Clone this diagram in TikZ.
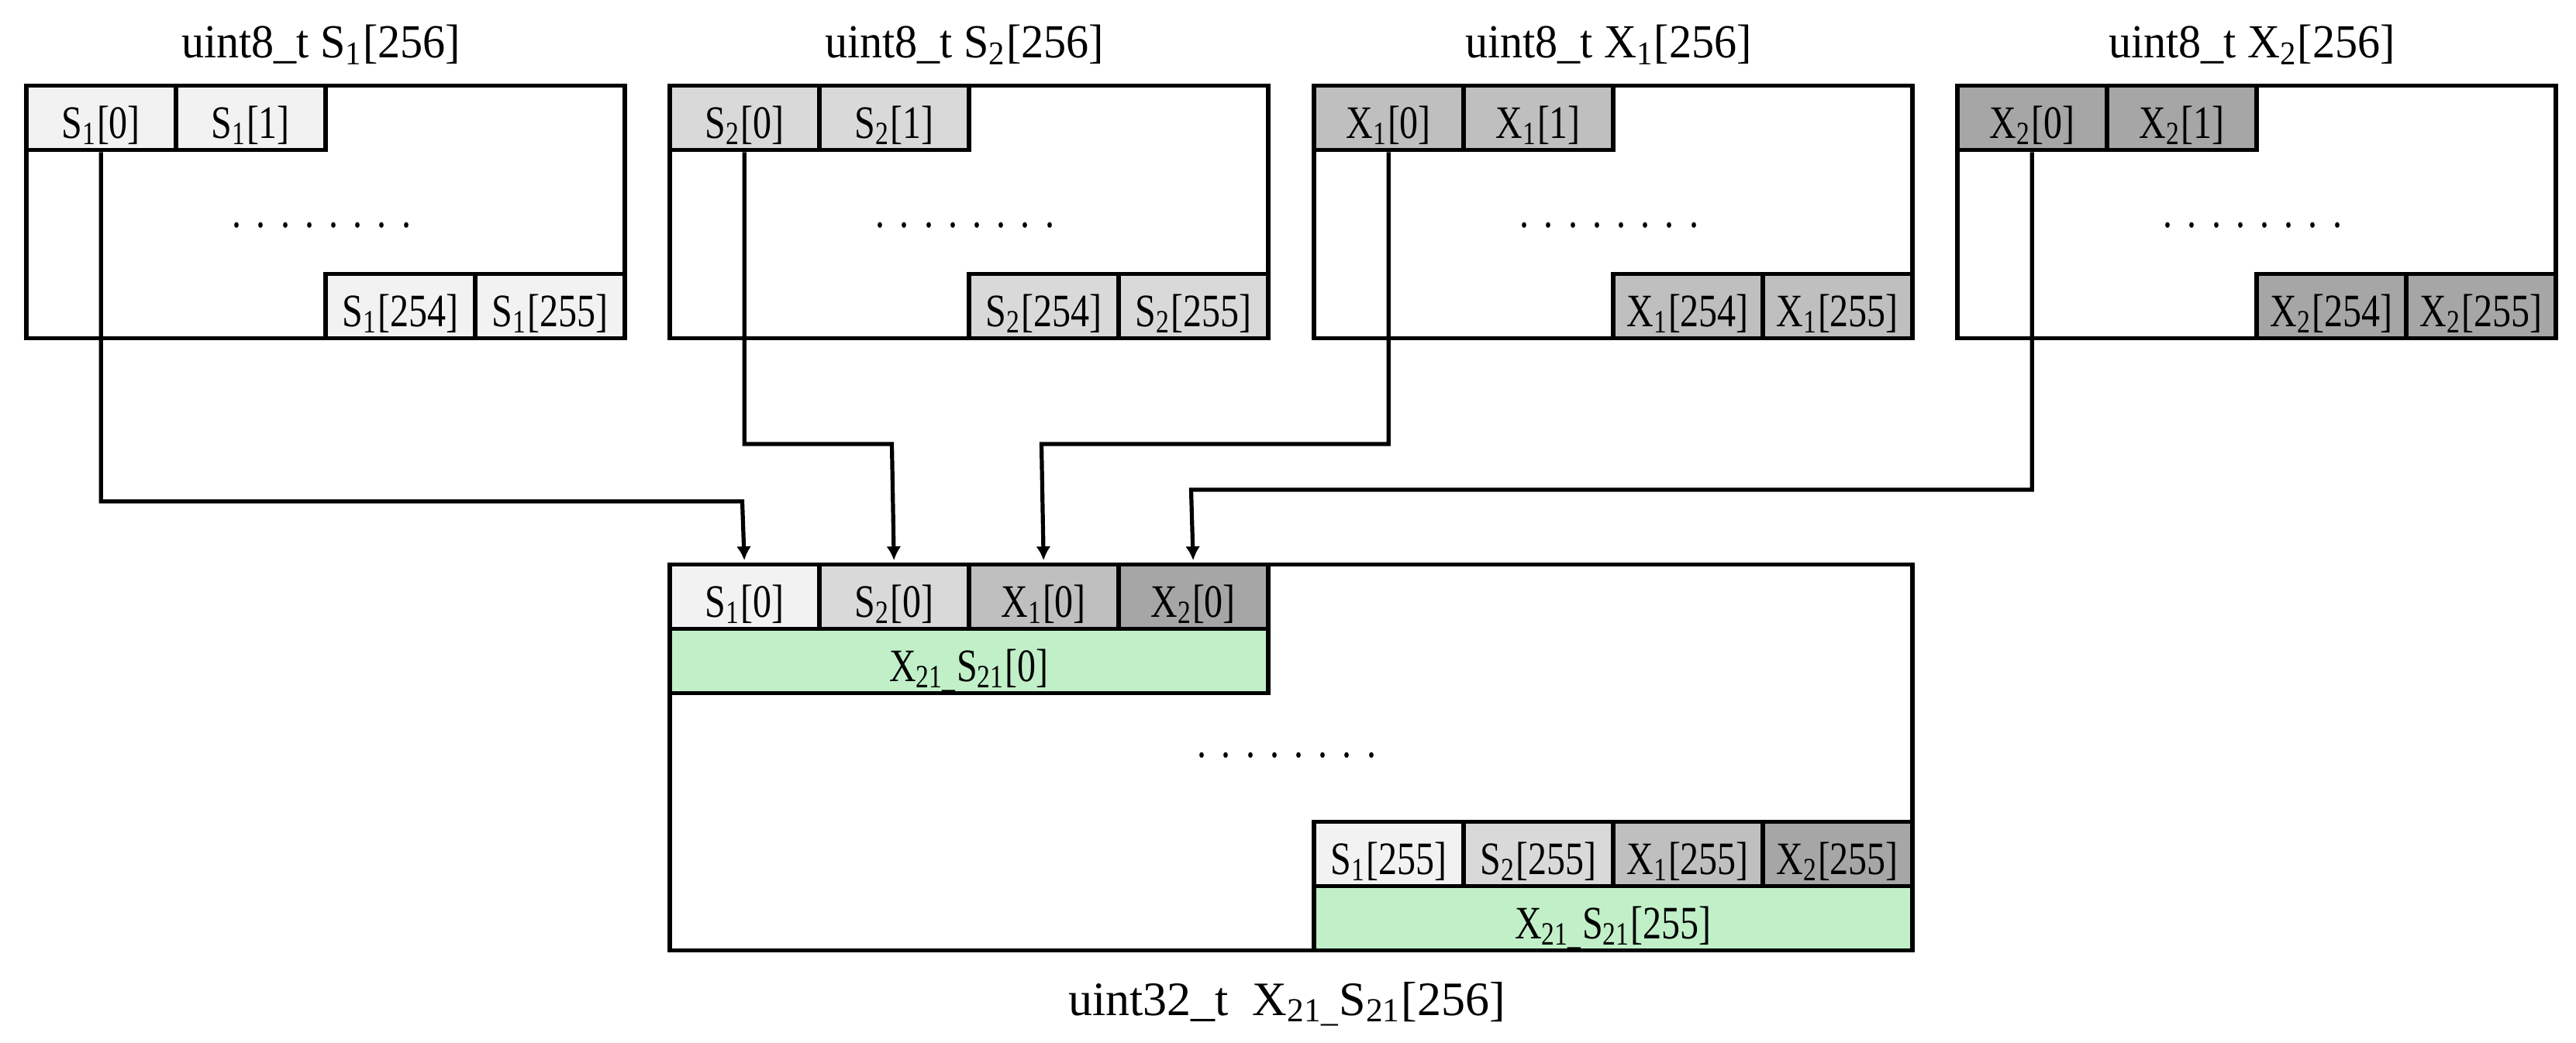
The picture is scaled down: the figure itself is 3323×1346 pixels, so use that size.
\documentclass[tikz,border=0pt]{standalone}
\usepackage{fontspec}
\setmainfont{Liberation Serif}
\newfontfamily\cellfont{Liberation Serif}[FakeStretch=0.8]
\newfontfamily\ttlfont{Liberation Serif}[FakeStretch=0.95]
\usetikzlibrary{arrows.meta}
\definecolor{cA}{HTML}{F2F2F2}
\definecolor{cB}{HTML}{D9D9D9}
\definecolor{cC}{HTML}{BFBFBF}
\definecolor{cD}{HTML}{A6A6A6}
\definecolor{cG}{HTML}{C1F0C8}
\newcommand\dotrow{.\kern4.8pt.\kern4.8pt.\kern4.8pt.\kern4.8pt.\kern4.8pt.\kern4.8pt.\kern4.8pt.}
\begin{document}
\begin{tikzpicture}[x=0.25pt,y=-0.25pt,
  cell/.style={draw, line width=1.375pt, inner sep=0pt, anchor=north west,
    minimum width=48.25pt, minimum height=20.75pt,
    font=\cellfont\fontsize{15pt}{18pt}\selectfont, text height=13pt, text depth=0pt},
  wide/.style={cell, minimum width=193pt},
  outer/.style={draw, line width=1.375pt, fill=white, inner sep=0pt, anchor=north west},
  conn/.style={line width=1.3pt, -{Latex[length=4.5pt,width=4.75pt]}, shorten >=0.7pt},
  ttl/.style={anchor=base, inner sep=0pt, font=\ttlfont\fontsize{15.3pt}{18pt}\selectfont},
  bigttl/.style={anchor=base, inner sep=0pt, font=\fontsize{15.5pt}{18pt}\selectfont},
  dotsty/.style={inner sep=0pt, font=\cellfont\fontsize{15pt}{18pt}\selectfont}]
\useasboundingbox (0,0) rectangle (3323,1346);

% ---- top arrays ----
% S1
\node[outer, minimum width=193pt, minimum height=81.5pt] (boxS1) at (31,108) {};
\node[cell, fill=cA] (s1a) at (31,108) {S\textsubscript{1}[0]};
\node[cell, fill=cA] (s1b) at (224,108) {S\textsubscript{1}[1]};
\node[cell, fill=cA] (s1c) at (417,351) {S\textsubscript{1}[254]};
\node[cell, fill=cA] (s1d) at (610,351) {S\textsubscript{1}[255]};
\node[dotsty] (dS1) at (415,291) {\dotrow};
\node[ttl] (tS1) at (414,75) {uint8\_t S\textsubscript{1}[256]};
% S2
\node[outer, minimum width=193pt, minimum height=81.5pt] (boxS2) at (861,108) {};
\node[cell, fill=cB] (s2a) at (861,108) {S\textsubscript{2}[0]};
\node[cell, fill=cB] (s2b) at (1054,108) {S\textsubscript{2}[1]};
\node[cell, fill=cB] (s2c) at (1247,351) {S\textsubscript{2}[254]};
\node[cell, fill=cB] (s2d) at (1440,351) {S\textsubscript{2}[255]};
\node[dotsty] (dS2) at (1245,291) {\dotrow};
\node[ttl] (tS2) at (1244,75) {uint8\_t S\textsubscript{2}[256]};
% X1
\node[outer, minimum width=193pt, minimum height=81.5pt] (boxX1) at (1692,108) {};
\node[cell, fill=cC] (x1a) at (1692,108) {X\textsubscript{1}[0]};
\node[cell, fill=cC] (x1b) at (1885,108) {X\textsubscript{1}[1]};
\node[cell, fill=cC] (x1c) at (2078,351) {X\textsubscript{1}[254]};
\node[cell, fill=cC] (x1d) at (2271,351) {X\textsubscript{1}[255]};
\node[dotsty] (dX1) at (2076,291) {\dotrow};
\node[ttl] (tX1) at (2075,75) {uint8\_t X\textsubscript{1}[256]};
% X2
\node[outer, minimum width=193pt, minimum height=81.5pt] (boxX2) at (2522,108) {};
\node[cell, fill=cD] (x2a) at (2522,108) {X\textsubscript{2}[0]};
\node[cell, fill=cD] (x2b) at (2715,108) {X\textsubscript{2}[1]};
\node[cell, fill=cD] (x2c) at (2908,351) {X\textsubscript{2}[254]};
\node[cell, fill=cD] (x2d) at (3101,351) {X\textsubscript{2}[255]};
\node[dotsty] (dX2) at (2906,291) {\dotrow};
\node[ttl] (tX2) at (2905,75) {uint8\_t X\textsubscript{2}[256]};

% ---- result array ----
\node[outer, minimum width=400.75pt, minimum height=124.5pt] (big) at (861,726) {};
\node[cell, fill=cA] (r1) at (861,726) {S\textsubscript{1}[0]};
\node[cell, fill=cB] (r2) at (1054,726) {S\textsubscript{2}[0]};
\node[cell, fill=cC] (r3) at (1247,726) {X\textsubscript{1}[0]};
\node[cell, fill=cD] (r4) at (1440,726) {X\textsubscript{2}[0]};
\node[wide, fill=cG] (g0) at (861,809) {X\textsubscript{21\_}S\textsubscript{21}[0]};
\node[dotsty] (dBig) at (1660,975) {\dotrow};
\node[cell, fill=cA] (q1) at (1692,1058) {S\textsubscript{1}[255]};
\node[cell, fill=cB] (q2) at (1885,1058) {S\textsubscript{2}[255]};
\node[cell, fill=cC] (q3) at (2078,1058) {X\textsubscript{1}[255]};
\node[cell, fill=cD] (q4) at (2271,1058) {X\textsubscript{2}[255]};
\node[wide, fill=cG] (g255) at (1692,1141) {X\textsubscript{21\_}S\textsubscript{21}[255]};
\node[bigttl] (tBig) at (1660,1310) {uint32\_t\ \ X\textsubscript{21\_}S\textsubscript{21}[256]};

% ---- connectors ----
\coordinate (j1) at (957.5,647);
\coordinate (j2) at (1150.5,573);
\coordinate (j3) at (1343.5,573);
\coordinate (j4) at (1536.5,632);
\draw[conn] (s1a.south) |- (j1) -- (r1.north);
\draw[conn] (s2a.south) |- (j2) -- (r2.north);
\draw[conn] (x1a.south) |- (j3) -- (r3.north);
\draw[conn] (x2a.south) |- (j4) -- (r4.north);
\end{tikzpicture}
\end{document}
